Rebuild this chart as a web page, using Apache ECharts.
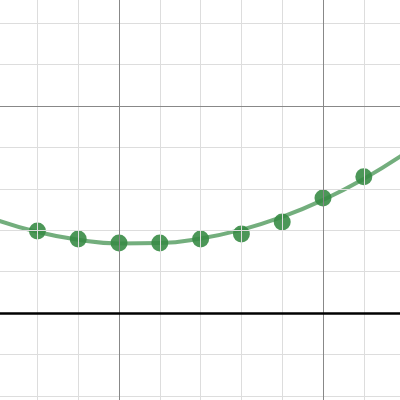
<!DOCTYPE html>
<html><head><meta charset="utf-8">
<script src="https://cdn.jsdelivr.net/npm/echarts@6/dist/echarts.min.js"></script>
<style>html,body{margin:0;padding:0;background:#fff}#c{width:400px;height:400px}</style>
</head><body><div id="c"></div>
<script>
const pointX = [-3,-2,-1,0,1,2,3,4,5,6,7];
const pointY = [2.29,1.98,1.79,1.69,1.69,1.79,1.91,2.20,2.78,3.29,3.77];
const curveX = [-3,-2,-1,0,1,2,3,4,5,6,7];
const curveY = [2.25,1.96,1.77,1.68,1.69,1.80,2.01,2.32,2.73,3.24,3.85];
const minorX = [-2,-1,1,2,3,4,6];
const majorX = [0,5];
const minorY = [-2,-1,1,2,3,4,6,7];
const majorY = [5];
const axisY = [0];

const mk = (arr, axis, color, w) => arr.map(v => ({[axis]: v, lineStyle:{color, width:w, type:'solid'}}));
const chart = echarts.init(document.getElementById('c'));
chart.setOption({
  animation:false,
  grid:{left:0,right:0,top:0,bottom:0},
  xAxis:{type:'value',min:-2.917,max:6.887,show:false},
  yAxis:{type:'value',min:-2.10,max:7.56,show:false},
  series:[
    {type:'line',data:[],silent:true,
     markLine:{silent:true,symbol:'none',label:{show:false},
       data:[].concat(
         mk(minorX,'xAxis','#dddddd',1), mk(minorY,'yAxis','#dddddd',1),
         mk(majorX,'xAxis','#888888',1), mk(majorY,'yAxis','#888888',1),
         mk(axisY,'yAxis','#000000',2.5))}},
    {type:'line',smooth:true,showSymbol:false,data:curveX.map((x,i)=>[x,curveY[i]]),
     lineStyle:{color:'#388c46',width:4,opacity:0.7}},
    {type:'scatter',symbolSize:17,data:pointX.map((x,i)=>[x,pointY[i]]),
     itemStyle:{color:'#388c46',opacity:0.9}}
  ]
});
</script></body></html>
